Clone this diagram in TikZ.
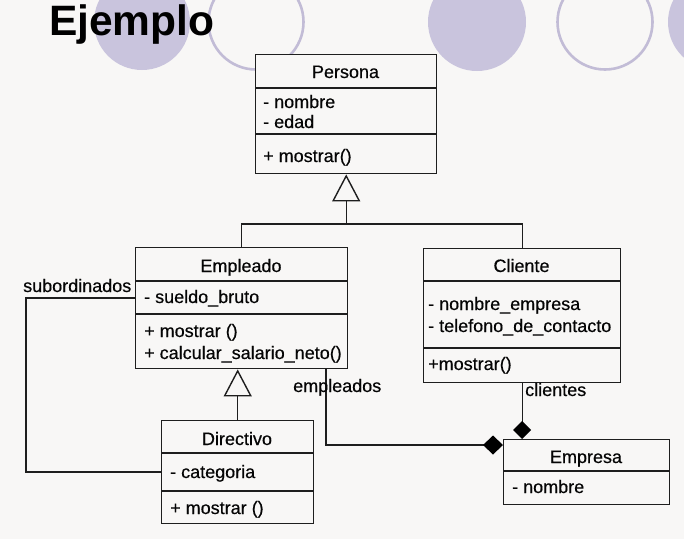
\documentclass[tikz,border=0pt]{standalone}
\usepackage{fontspec}
\setmainfont{Liberation Sans}
\newfontfamily\boxfont[FakeBold=0.4]{Liberation Sans}
\usetikzlibrary{arrows.meta}
\definecolor{bgc}{RGB}{248,247,246}
\definecolor{lav}{RGB}{201,196,221}
\definecolor{lavline}{RGB}{194,188,214}
\definecolor{boxline}{RGB}{30,30,30}
\definecolor{txt}{RGB}{5,5,5}
\begin{document}
\begin{tikzpicture}[x=1pt,y=-1pt,
  cls/.style={draw=boxline, line width=1.4pt, fill=bgc, rectangle, inner sep=0pt, anchor=north west},
  divl/.style={draw=boxline, line width=1.4pt},
  conn/.style={draw=boxline, line width=1.4pt},
  ctext/.style={inner sep=0pt, text=txt, font=\boxfont\fontsize{18}{20.7}\selectfont},
  lbl/.style={inner sep=0pt, text=txt, font=\boxfont\fontsize{18}{20.7}\selectfont, anchor=base west},
  gentip/.style={-{Triangle[open, length=27pt, width=28pt]}}
]
\fill[bgc] (0,0) rectangle (684,539);
\useasboundingbox (0,0) rectangle (684,539);
% background circles
\begin{scope}
  \clip (0,0) rectangle (684,539);
  \fill[lav] (142,22) circle (48pt);
  \draw[lavline, line width=2.6pt] (256,22) circle (47.5pt);
  \fill[lav] (477,22) circle (49pt);
  \draw[lavline, line width=2.6pt] (605,22) circle (47.5pt);
  \fill[lav] (716,22) circle (48pt);
\end{scope}
% title
\node[anchor=base west, inner sep=0pt, text=black, font=\fontsize{42.5}{42.5}\selectfont\bfseries] (title) at (49,35) {Ejemplo};

% class boxes
\node[cls, minimum width=181pt, minimum height=119pt] (persona) at (255,54) {};
\node[cls, minimum width=212pt, minimum height=121pt] (empleado) at (135,247) {};
\node[cls, minimum width=152pt, minimum height=103pt] (directivo) at (161,420) {};
\node[cls, minimum width=197pt, minimum height=134pt] (cliente) at (423,248) {};
\node[cls, minimum width=166pt, minimum height=65pt] (empresa) at (503,439) {};

% dividers
\draw[divl] (persona.west |- 0,88) -- (persona.east |- 0,88);
\draw[divl] (persona.west |- 0,134) -- (persona.east |- 0,134);
\draw[divl] (empleado.west |- 0,281) -- (empleado.east |- 0,281);
\draw[divl] (empleado.west |- 0,314) -- (empleado.east |- 0,314);
\draw[divl] (directivo.west |- 0,453) -- (directivo.east |- 0,453);
\draw[divl] (directivo.west |- 0,491) -- (directivo.east |- 0,491);
\draw[divl] (cliente.west |- 0,281) -- (cliente.east |- 0,281);
\draw[divl] (cliente.west |- 0,348) -- (cliente.east |- 0,348);
\draw[divl] (empresa.west |- 0,471) -- (empresa.east |- 0,471);

% class texts
\node[ctext, anchor=base] (pname) at (345.5,78) {Persona};
\node[ctext, anchor=base west] (pa1) at (263,108) {- nombre};
\node[ctext, anchor=base west] (pa2) at (263,128) {- edad};
\node[ctext, anchor=base west] (pm1) at (263,162) {+ mostrar()};

\node[ctext, anchor=base] (ename) at (241,272) {Empleado};
\node[ctext, anchor=base west] (ea1) at (144,303) {- sueldo\_bruto};
\node[ctext, anchor=base west] (em1) at (144,337) {+ mostrar ()};
\node[ctext, anchor=base west] (em2) at (144,359) {+ calcular\_salario\_neto()};

\node[ctext, anchor=base] (dname) at (237,445) {Directivo};
\node[ctext, anchor=base west] (da1) at (170,478) {- categoria};
\node[ctext, anchor=base west] (dm1) at (170,514) {+ mostrar ()};

\node[ctext, anchor=base] (cname) at (521.5,272) {Cliente};
\node[ctext, anchor=base west] (ca1) at (428,310) {- nombre\_empresa};
\node[ctext, anchor=base west] (ca2) at (428,332) {- telefono\_de\_contacto};
\node[ctext, anchor=base west] (cm1) at (428,370) {+mostrar()};

\node[ctext, anchor=base] (emname) at (586,463) {Empresa};
\node[ctext, anchor=base west] (ema1) at (512,493) {- nombre};

% generalization Persona
\coordinate (j1) at (persona.south |- 0,224);
\draw[conn] (empleado.north) |- (j1) -| (cliente.north);
\draw[conn, gentip] (j1) -- (persona.south);
% generalization Empleado
\draw[conn, gentip] (directivo.north) -- (directivo.north |- empleado.south);

% subordinados
\draw[conn] (empleado.west |- 0,298) -- (26,298) -- (26,472) -- (directivo.west |- 0,472);
% empleados
\draw[conn, -{Diamond[length=20pt, width=19pt, color=black]}] (empleado.south -| 326,0) |- (empresa.west |- 0,445);
% clientes
\draw[conn, -{Diamond[length=18pt, width=18pt, color=black]}] (cliente.south) -- (empresa.north -| cliente.south);

% association labels
\node[lbl] (lsub) at (23,292) {subordinados};
\node[lbl] (lemp) at (293,392) {empleados};
\node[lbl] (lcli) at (525,396) {clientes};
\end{tikzpicture}
\end{document}
